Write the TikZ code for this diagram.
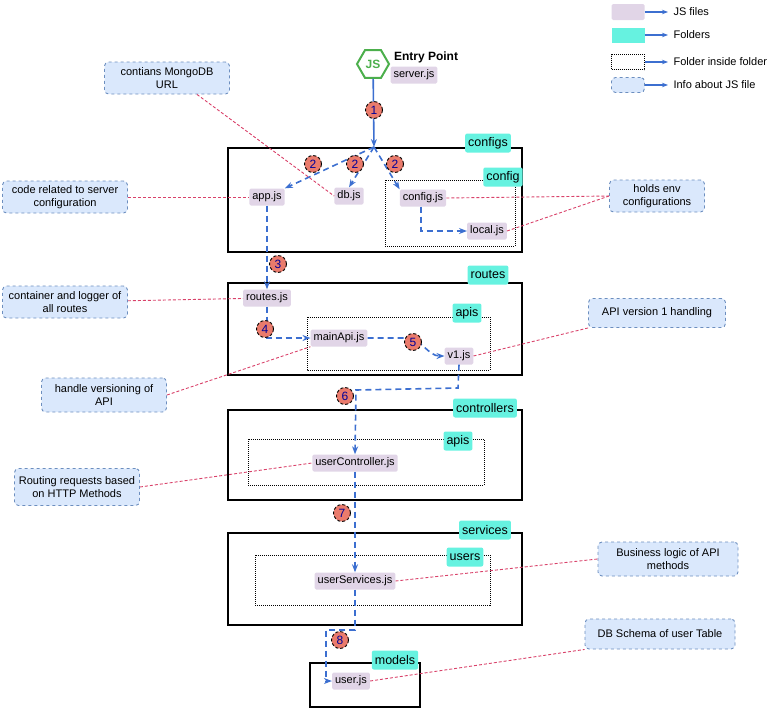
\documentclass[tikz,border=0pt]{standalone}
\usepackage{fontspec}
\setmainfont{Liberation Sans}
\usetikzlibrary{shapes.geometric,arrows.meta,calc}
\definecolor{jsf}{HTML}{E1D5E7}
\definecolor{fold}{HTML}{66F2E0}
\definecolor{info}{HTML}{DAE8FC}
\definecolor{infob}{HTML}{6C8EBF}
\definecolor{arr}{HTML}{3C6FD0}
\definecolor{red1}{HTML}{D9426A}
\definecolor{circ}{HTML}{EA7B6C}
\begin{document}
\begin{tikzpicture}[x=1pt,y=-1pt,font=\fontsize{11}{13}\selectfont,
 js/.style={fill=jsf,draw=none,rounded corners=1.5pt,inner sep=3pt,minimum height=17pt},
 fold/.style={fill=fold,draw=none,rounded corners=2pt,inner sep=3pt,minimum height=19pt,font=\fontsize{12.5}{14}\selectfont},
 big/.style={draw=black,line width=1.1pt},
 sub/.style={draw=black,densely dotted,line width=1pt},
 info/.style={fill=info,draw=infob,dashed,line width=0.9pt,rounded corners=4pt,align=center,inner sep=2pt},
 num/.style={circle,fill=circ,draw=black,densely dashed,line width=0.9pt,minimum size=17pt,inner sep=0pt,text=blue!60!black,font=\fontsize{12}{14}\selectfont},
 flow/.style={draw=arr,line width=1.6pt,dash pattern=on 6pt off 4pt,-{Stealth[length=8pt]}},
 solid flow/.style={draw=arr,line width=1.6pt,-{Stealth[length=8pt]}},
 note/.style={draw=red1,dash pattern=on 3pt off 2pt,line width=0.9pt},
 leg/.style={draw=arr,line width=1.2pt,-{Stealth[length=6pt]}}]
\useasboundingbox (0,0) rectangle (768,707);
% legend
\node[js,minimum width=33pt,minimum height=16pt] (l1) at (628,12) {};
\node[fill=fold,minimum width=33pt,minimum height=15pt,inner sep=0pt] (l2) at (628,35) {};
\node[sub,minimum width=33pt,minimum height=15pt,inner sep=0pt] (l3) at (628,62) {};
\node[info,minimum width=33pt,minimum height=15pt] (l4) at (628,85) {};
\coordinate (e1) at (668,12);\coordinate (e2) at (668,35);\coordinate (e3) at (668,62);\coordinate (e4) at (668,85);
\draw[leg] (l1) -- (e1); \draw[leg] (l2) -- (e2); \draw[leg] (l3) -- (e3); \draw[leg] (l4) -- (e4);
\node[anchor=west] (t1) at (670,12) {JS files};
\node[anchor=west] (t2) at (670,35) {Folders};
\node[anchor=west] (t3) at (670,62) {Folder inside folder};
\node[anchor=west] (t4) at (670,85) {Info about JS file};
% boxes
\draw[big] (228,148) rectangle (522,252);
\node[fold] (fconfigs) at (488,143) {configs};
\draw[sub] (385,180) rectangle (515,246);
\node[fold] (fconfig) at (503,177) {config};
\draw[big] (228,283) rectangle (522,375);
\node[fold] (froutes) at (488,275) {routes};
\draw[sub] (307,317) rectangle (490,370);
\node[fold] (fapis1) at (467,313) {apis};
\draw[big] (228,410) rectangle (522,500);
\node[fold] (fctrl) at (485,408) {controllers};
\draw[sub] (248,439) rectangle (484,485);
\node[fold] (fapis2) at (458,441) {apis};
\draw[big] (228,533) rectangle (522,625);
\node[fold] (fserv) at (485,530) {services};
\draw[sub] (255,555) rectangle (490,605);
\node[fold] (fusers) at (465,557) {users};
\draw[big] (310,663) rectangle (420,707);
\node[fold] (fmodels) at (395,660) {models};
% entry
\node[regular polygon,regular polygon sides=6,draw=green!55!black!70,line width=2pt,minimum size=32pt,inner sep=0pt,text=green!55!black!70,font=\bfseries\fontsize{12}{13}\selectfont] (logo) at (373,64) {JS};
\node[font=\bfseries\fontsize{12}{14}\selectfont] (ep) at (426,57) {Entry Point};
\node[js] (server) at (414,75) {server.js};
% js files
\node[js] (app) at (267,197) {app.js};
\node[js] (db) at (349,196) {db.js};
\node[js] (config) at (423,198) {config.js};
\node[js] (local) at (487,231) {local.js};
\node[js] (routesjs) at (267,298) {routes.js};
\node[js] (main) at (339,338) {mainApi.js};
\node[js] (v1) at (459,356) {v1.js};
\node[js] (uc) at (355,463) {userController.js};
\node[js] (us) at (355,581) {userServices.js};
\node[js] (user) at (351,681) {user.js};
% flow
\coordinate (hub) at (374,147);
\draw[solid flow] (logo) -- (hub);
\draw[flow] (hub) -- (app.north east);
\draw[flow] (hub) -- (db.north);
\draw[flow] (hub) -- (config.north west);
\draw[flow] (config.south) ++(-2,0) |- (local.west);
\draw[flow] (app) -- (routesjs);
\draw[flow] (routesjs.south) |- (main.west);
\draw[flow] (main.east) -- (405,338) to[out=0,in=180] (v1.west);
\draw[flow] (v1.south) -- (458,388) -- (356,390) -- (uc.north);
\draw[flow] (uc) -- (us);
\draw[flow] (us.south) -- (355,630) -- (326,630) |- (user.west);
\node[num] (n1) at (374,110) {1};
\node[num] (n2a) at (313,164) {2};
\node[num] (n2b) at (355,164) {2};
\node[num] (n2c) at (395,164) {2};
\node[num] (n3) at (278,264) {3};
\node[num] (n4) at (265,329) {4};
\node[num] (n5) at (413,342) {5};
\node[num] (n6) at (345,396) {6};
\node[num] (n7) at (342,513) {7};
\node[num] (n8) at (340,640) {8};
% info
\node[info,minimum width=125pt,minimum height=32pt] (i1) at (167,78) {contians MongoDB\\URL};
\node[info,minimum width=125pt,minimum height=32pt] (i2) at (65,197) {code related to server\\configuration};
\node[info,minimum width=95pt,minimum height=32pt] (i3) at (657,196) {holds env\\configurations};
\node[info,minimum width=125pt,minimum height=32pt] (i4) at (65,302) {container and logger of\\all routes};
\node[info,minimum width=137pt,minimum height=29pt] (i5) at (657,313) {API version 1 handling};
\node[info,minimum width=125pt,minimum height=34pt] (i6) at (104,395) {handle versioning of\\API};
\node[info,minimum width=125pt,minimum height=37pt] (i7) at (77,487) {Routing requests based\\on HTTP Methods};
\node[info,minimum width=140pt,minimum height=34pt] (i8) at (668,559) {Business logic of API\\methods};
\node[info,minimum width=150pt,minimum height=30pt] (i9) at (660,634) {DB Schema of user Table};
\draw[note] (i1.south) ++(30,0) -- (db.west);
\draw[note] (i2) -- (app);
\draw[note] (config.east) -- (i3.west);
\draw[note] (local.east) -- (i3.west);
\draw[note] (i4) -- (routesjs);
\draw[note] (v1.east) -- (i5.south west);
\draw[note] (i6.east) -- (main.south west);
\draw[note] (i7.east) -- (uc.west);
\draw[note] (us.east) -- (i8.west);
\draw[note] (user.east) -- (i9.south west);
\end{tikzpicture}
\end{document}
